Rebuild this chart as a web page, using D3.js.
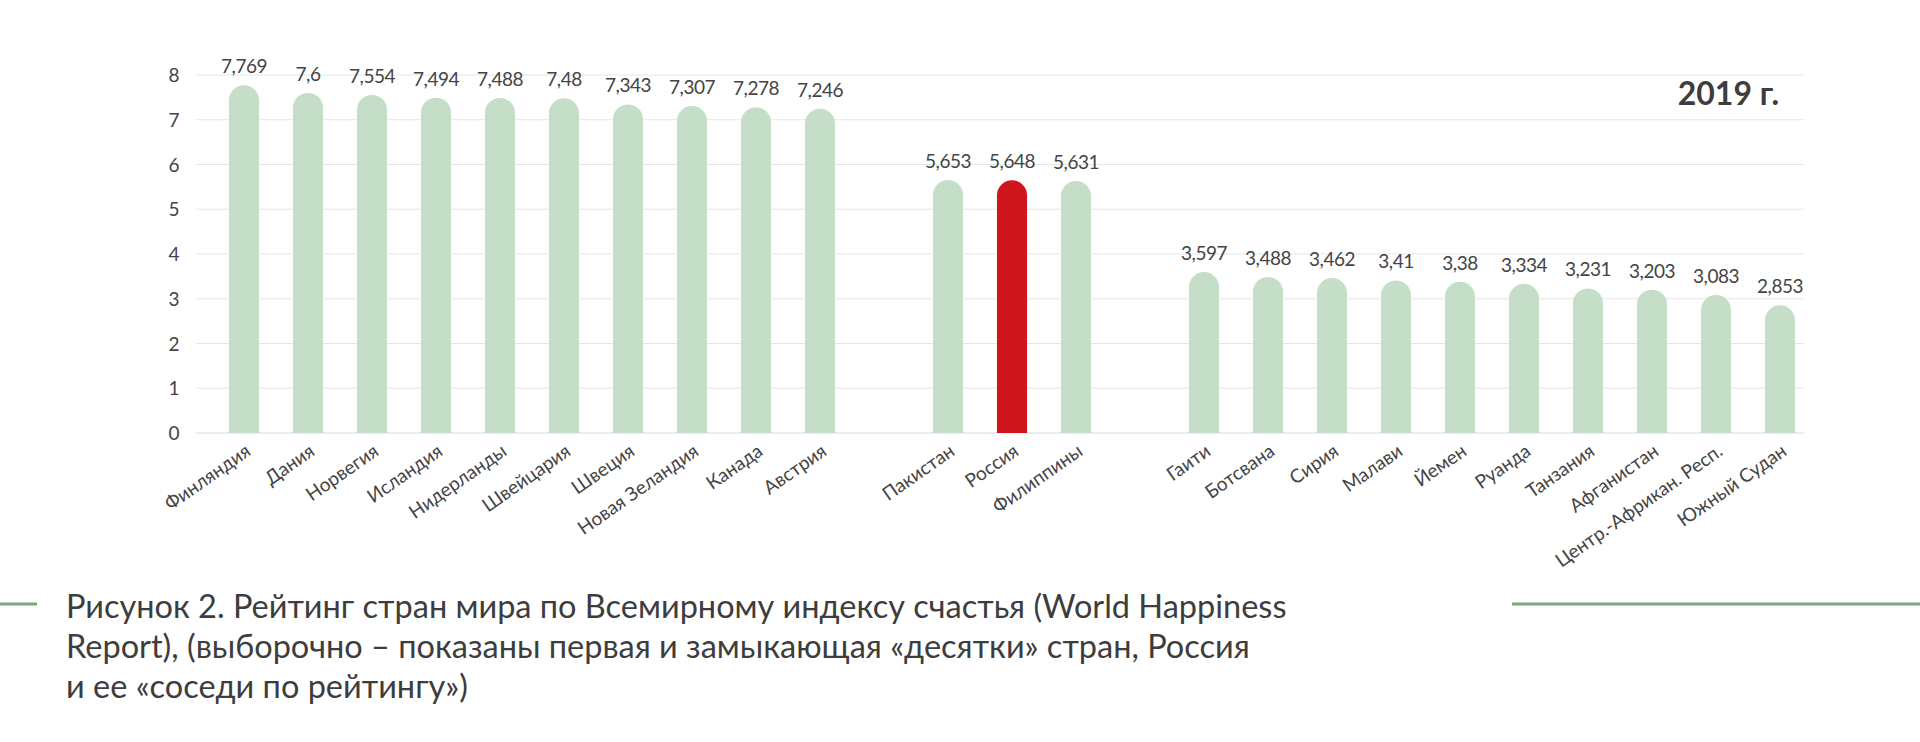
<!DOCTYPE html>
<html><head><meta charset="utf-8">
<script src="https://cdn.jsdelivr.net/npm/d3@7"></script>
<style>body{margin:0;background:#fff}svg{display:block}</style>
</head><body><svg id="c" width="1920" height="742"></svg>
<script>
const countries=["Финляндия","Дания","Норвегия","Исландия","Нидерланды","Швейцария","Швеция","Новая Зеландия","Канада","Австрия","","Пакистан","Россия","Филиппины","","Гаити","Ботсвана","Сирия","Малави","Йемен","Руанда","Танзания","Афганистан","Центр.-Африкан. Респ.","Южный Судан"];
const values=[7.769,7.6,7.554,7.494,7.488,7.48,7.343,7.307,7.278,7.246,null,5.653,5.648,5.631,null,3.597,3.488,3.462,3.41,3.38,3.334,3.231,3.203,3.083,2.853];
const yTicks=[0,1,2,3,4,5,6,7,8];
const highlight="Россия";
const captionLines=["Рисунок 2. Рейтинг стран мира по Всемирному индексу счастья (World Happiness","Report), (выборочно – показаны первая и замыкающая «десятки» стран, Россия","и ее «соседи по рейтингу»)"];

const svg=d3.select("#c");
const F="Lato, 'Noto Sans', sans-serif";
const keys=countries.map((c,i)=>i);
const x=d3.scaleBand().domain(keys).range([212,1812]).paddingInner(0.53).paddingOuter(0.265);
const y=d3.scaleLinear().domain([0,8]).range([433,75]);
svg.append("g").selectAll("line").data(yTicks).join("line")
 .attr("x1",196).attr("x2",1804).attr("y1",d=>y(d)).attr("y2",d=>y(d))
 .attr("stroke",d=>d===0?"#d9d9d9":"#e6e6e6").attr("stroke-width",1);
svg.append("g").selectAll("text").data(yTicks).join("text")
 .attr("x",174).attr("y",d=>y(d)+7).attr("text-anchor","middle")
 .attr("font-family",F).attr("font-size",19).attr("fill","#444").text(d=>d);
const data=keys.filter(i=>values[i]!=null);
const bw=x.bandwidth(), r=bw/2;
svg.append("g").selectAll("path").data(data).join("path")
 .attr("d",i=>{const x0=x(i),x1=x0+bw,top=y(values[i]),b=y(0);
   return `M${x0},${b}V${top+r}A${r},${r} 0 0 1 ${x1},${top+r}V${b}Z`;})
 .attr("fill",i=>countries[i]===highlight?"#cf161d":"#c4dec8");
svg.append("g").selectAll("text").data(data).join("text")
 .attr("x",i=>x(i)+bw/2).attr("y",i=>y(values[i])-12).attr("text-anchor","middle")
 .attr("font-family",F).attr("font-size",19).attr("fill","#444").attr("letter-spacing","-0.5")
 .text(i=>String(values[i]).replace(".",","));
svg.append("g").selectAll("text").data(data).join("text")
 .attr("transform",i=>`translate(${x(i)+bw/2+8},${454}) rotate(-35)`)
 .attr("text-anchor","end").attr("font-family",F).attr("font-size",19).attr("fill","#444")
 .text(i=>countries[i]);
svg.append("text").attr("x",1779).attr("y",105).attr("text-anchor","end")
 .attr("font-family",F).attr("font-weight","bold").attr("font-size",32).attr("fill","#3d3d3d").text("2019 г.");
svg.append("line").attr("x1",0).attr("x2",37).attr("y1",604).attr("y2",604).attr("stroke","#7aa87a").attr("stroke-width",3);
svg.append("line").attr("x1",1512).attr("x2",1920).attr("y1",604).attr("y2",604).attr("stroke","#7aa87a").attr("stroke-width",3);
svg.append("g").selectAll("text").data(captionLines).join("text")
 .attr("x",66).attr("y",(d,i)=>618+i*40).attr("font-family",F).attr("font-size",32.5).attr("fill","#3d3d3d").text(d=>d);
</script></body></html>
